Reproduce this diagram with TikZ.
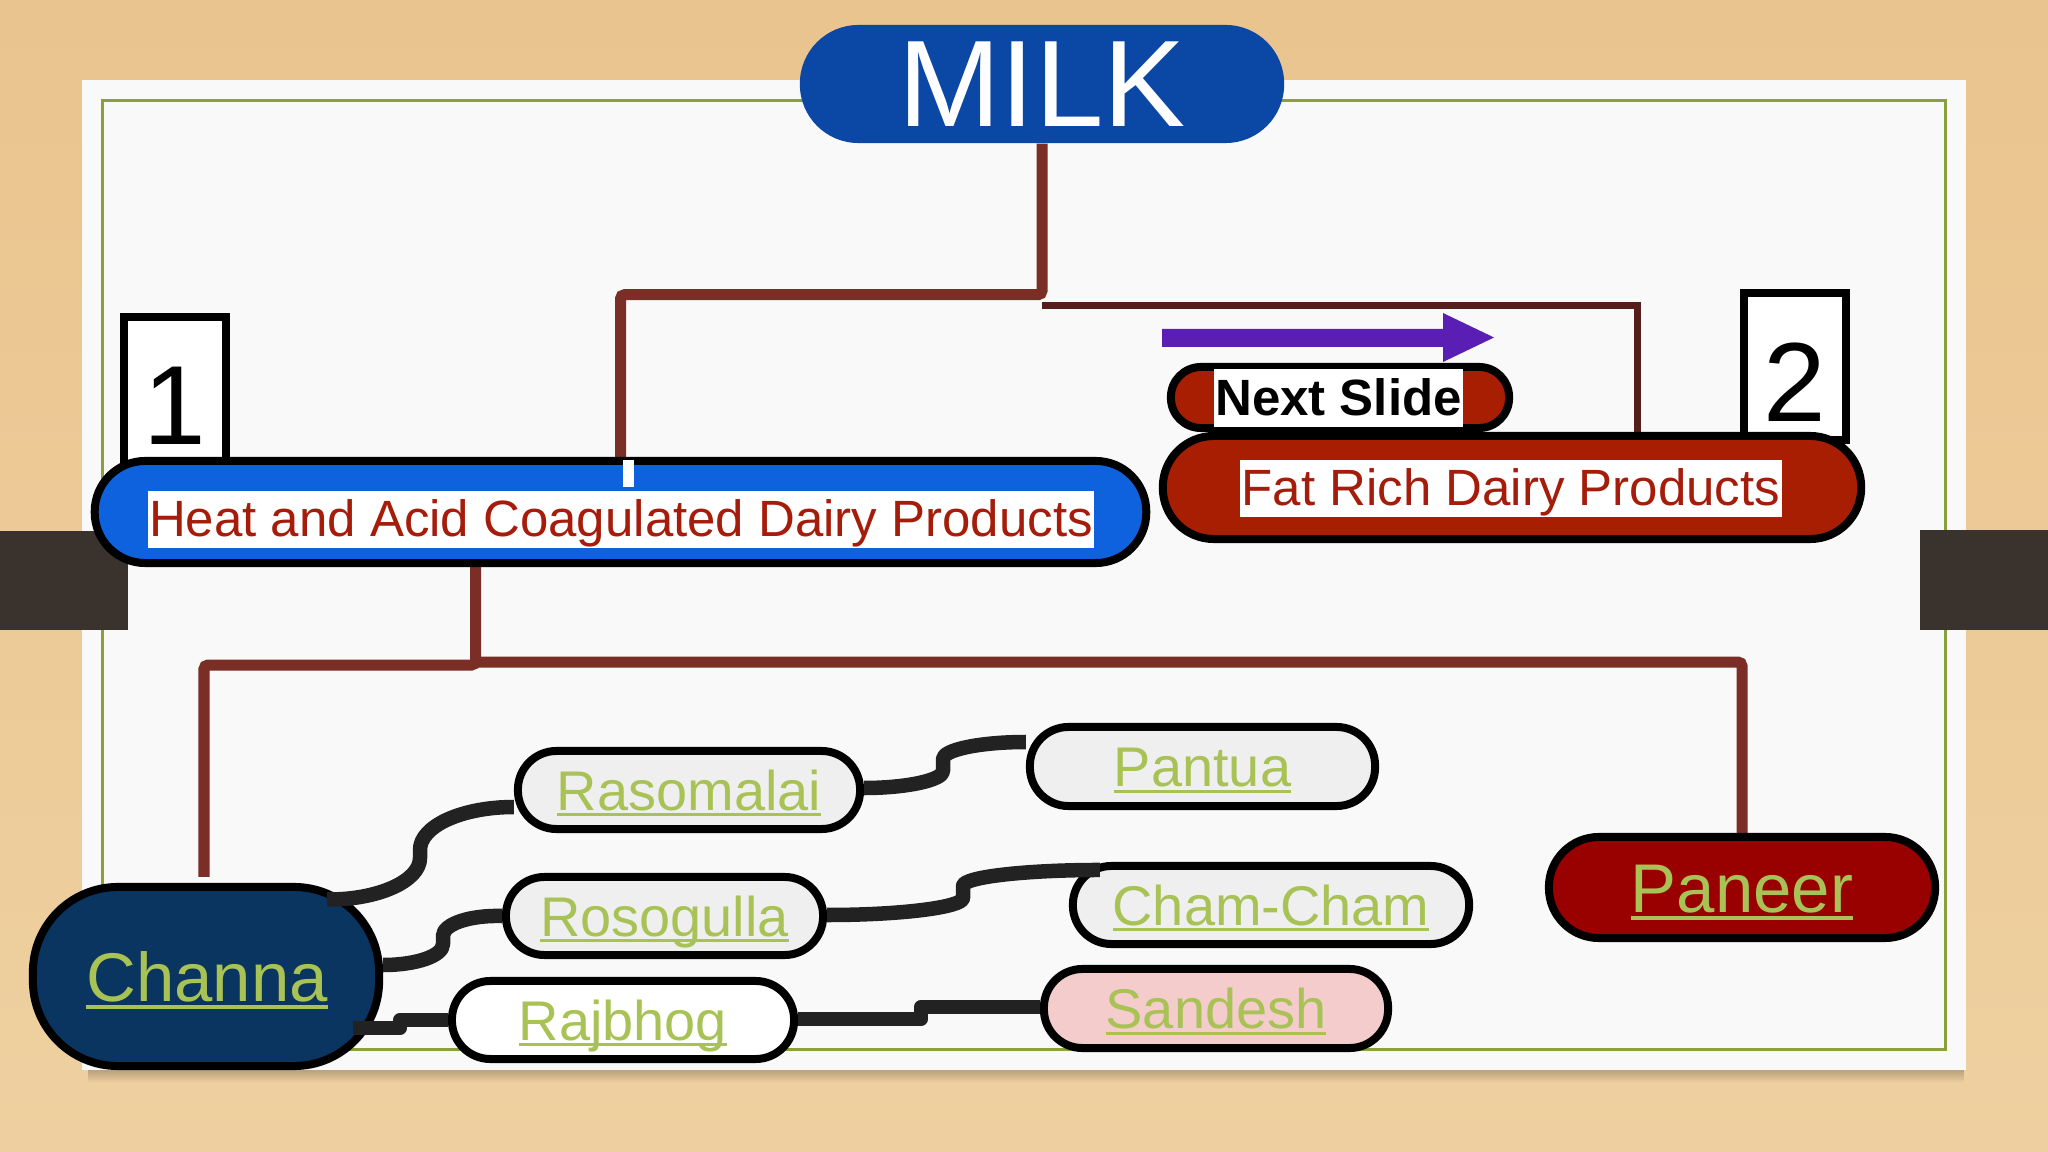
\documentclass[tikz,border=0pt]{standalone}
\usepackage{fontspec}
\setmainfont{Liberation Sans}
\usetikzlibrary{calc}
\pgfdeclarelayer{background}
\pgfsetlayers{background,main}
\definecolor{woodtop}{HTML}{EAC48E}
\definecolor{woodbot}{HTML}{EED0A0}
\definecolor{cardwhite}{HTML}{F9F9FA}
\definecolor{cardgreen}{HTML}{8AA03C}
\definecolor{bandc}{HTML}{3A322C}
\definecolor{treebrown}{HTML}{7B2E26}
\definecolor{treedark}{HTML}{551E1C}
\definecolor{milkblue}{HTML}{0B47A5}
\definecolor{heatblue}{HTML}{0F62DE}
\definecolor{fatred}{HTML}{A81E02}
\definecolor{textred}{HTML}{A51C0A}
\definecolor{paneerred}{HTML}{990000}
\definecolor{channanavy}{HTML}{0A3560}
\definecolor{labgreen}{HTML}{A8C256}
\definecolor{nodegray}{HTML}{EFEFEF}
\definecolor{sandpink}{HTML}{F4CCCC}
\definecolor{arrowpurple}{HTML}{5A1EB4}
\definecolor{linkblack}{HTML}{222222}
\newcommand\myul[1]{\setbox0=\hbox{#1}\rlap{\rule[-0.11em]{\wd0}{0.055em}}\box0}
\begin{document}
\begin{tikzpicture}[x=0.01cm,y=-0.01cm,
  pill/.style={draw=black, line width=0.08cm, inner sep=0pt, rectangle},
  smallpill/.style={pill, fill=nodegray, minimum height=0.78cm, rounded corners=0.385cm},
  lbl/.style={text=labgreen, anchor=base, inner sep=0pt, font=\fontsize{15.9}{18}\selectfont},
  biglbl/.style={text=labgreen, anchor=base, inner sep=0pt, font=\fontsize{19.6}{22}\selectfont},
  numbox/.style={draw=black, line width=0.08cm, fill=white, inner sep=0pt, minimum width=1.02cm},
  numtxt/.style={anchor=base, inner sep=0pt, font=\fontsize{32}{36}\selectfont},
  whitebox/.style={fill=white, inner xsep=0.015cm, inner ysep=0pt, text height=0.46cm, text depth=0.115cm, font=\fontsize{14.5}{17}\selectfont},
  tree/.style={draw=treebrown, line width=0.11cm, rounded corners=0.04cm},
  link/.style={draw=linkblack, line width=0.145cm, line join=round},
]
\useasboundingbox (0,0) rectangle (2048,1152);

% ---- top node and number boxes
\node[fill=milkblue, rounded corners=0.585cm, minimum width=4.84cm, minimum height=1.18cm,
      inner sep=0pt, text=white, font=\fontsize{35}{40}\selectfont] (milk) at (1042,84) {MILK};

\node[numbox, minimum height=1.5cm] (box1) at (175,392) {};
\node[numtxt] (one) at (175,445) {1};
\node[numbox, minimum height=1.47cm] (box2) at (1795,366.5) {};
\node[numtxt] (two) at (1795,422) {2};

% ---- category nodes
\node[pill, fill=heatblue, minimum width=10.51cm, minimum height=1.02cm, rounded corners=0.505cm] (heat) at (620.5,512) {};
\node[whitebox, text=textred] (heattxt) at (621,519.5) {Heat and Acid Coagulated Dairy Products};
\draw[white, line width=0.11cm] ($(heat.north)+(7.5,3)$) -- ++(0,27);

\node[pill, fill=fatred, minimum width=6.98cm, minimum height=1.03cm, rounded corners=0.51cm] (fat) at (1512,487.5) {};
\node[whitebox, text=textred] (fattxt) at (1511,488.5) {Fat Rich Dairy Products};

\node[pill, fill=fatred, minimum width=3.38cm, minimum height=0.61cm, rounded corners=0.3cm] (next) at (1340,397.5) {};
\node[whitebox, text=black, font=\fontsize{14.5}{17}\selectfont\bfseries] (nexttxt) at (1338.5,398) {Next Slide};

\fill[arrowpurple] (1162,329) -- (1443,329) -- (1443,313) -- (1494,337.5) -- (1443,362) -- (1443,347) -- (1162,347) -- cycle;

% ---- product nodes
\node[pill, fill=channanavy, minimum width=3.46cm, minimum height=1.79cm, rounded corners=0.85cm] (channa) at (206,976.5) {};
\node[biglbl] (channatxt) at (207,1001) {\myul{Channa}};

\node[pill, fill=paneerred, minimum width=3.86cm, minimum height=1.01cm, rounded corners=0.5cm] (paneer) at (1742,887.5) {};
\node[biglbl] (paneertxt) at (1742,912) {\myul{Paneer}};

\node[smallpill, minimum width=3.42cm] (rasomalai) at (689,790) {};
\node[lbl] (rasomalaitxt) at (689,810) {\myul{Rasomalai}};
\node[smallpill, minimum width=3.17cm] (rosogulla) at (664.5,916) {};
\node[lbl] (rosogullatxt) at (664.5,936) {\myul{Rosogulla}};
\node[smallpill, fill=white, minimum width=3.42cm] (rajbhog) at (623,1020) {};
\node[lbl] (rajbhogtxt) at (623,1040) {\myul{Rajbhog}};
\node[smallpill, minimum width=3.45cm, minimum height=0.79cm] (pantua) at (1202.5,766.5) {};
\node[lbl] (pantuatxt) at (1202.5,786.5) {\myul{Pantua}};
\node[smallpill, minimum width=3.96cm] (chamcham) at (1271,905) {};
\node[lbl] (chamchamtxt) at (1271,925) {\myul{Cham-Cham}};
\node[smallpill, fill=sandpink, minimum width=3.44cm, minimum height=0.79cm] (sandesh) at (1216,1008.5) {};
\node[lbl] (sandeshtxt) at (1216,1028.5) {\myul{Sandesh}};

% ---- black links (on top)
\draw[link] ($(channa.center)+(121,-77)$) .. controls (378,900) and (420,881) .. (420,858)
   -- (420,850) .. controls (420,826) and (462,807) .. (rasomalai.west |- 0,807);
\draw[link] ($(channa.east)+(0,-11.5)$) .. controls (416,965) and (443,956) .. (443,944)
   -- (443,936) .. controls (443,924) and (470,915) .. (rosogulla.west);
\draw[link] ($(channa.east)+(-30,51.5)$) -- (400,1028) -- (400,1020) -- (rajbhog.west);
\draw[link] (rasomalai.east |- 0,788) .. controls (907,788) and (943,780) .. (943,771)
   -- (943,759) .. controls (943,750) and (979,742) .. (pantua.west |- 0,742);
\draw[link] (rosogulla.east |- 0,915) .. controls (903,915) and (963,907) .. (963,898)
   -- (963,886) .. controls (963,877) and (1025,870) .. ($(chamcham.north west)+(31,8)$);
\draw[link] (rajbhog.east |- 0,1019) -- (921,1019) -- (921,1007) -- (sandesh.west |- 0,1007);

% ---- background layer
\begin{pgfonlayer}{background}
\shade[top color=woodtop, bottom color=woodbot] (0,0) rectangle (2048,1152);
\foreach \i in {2,4,...,18} \fill[black, opacity=0.035] (88,1064) rectangle (1964,1064+\i);
\fill[cardwhite] (82,80) rectangle (1966,1070);
\draw[cardgreen, line width=0.03cm] (102,101) rectangle (1945,1049);
\fill[bandc] (0,531) rectangle (128,630);
\fill[bandc] (1920,530) rectangle (2048,630);
\draw[tree] (milk.south) -- ++(0,151) -| (heat.north);
\draw[draw=treedark, line width=0.07cm] (milk.south |- 0,306) -| ($(fat.north)+(125,0)$);
\draw[tree] ($(heat.south)+(-145,0)$) -- ++(0,98) -| ($(channa.north)+(-2,-6)$);
\draw[tree] ($(heat.south)+(-145,95)$) -| (paneer.north);
\end{pgfonlayer}
\end{tikzpicture}
\end{document}
